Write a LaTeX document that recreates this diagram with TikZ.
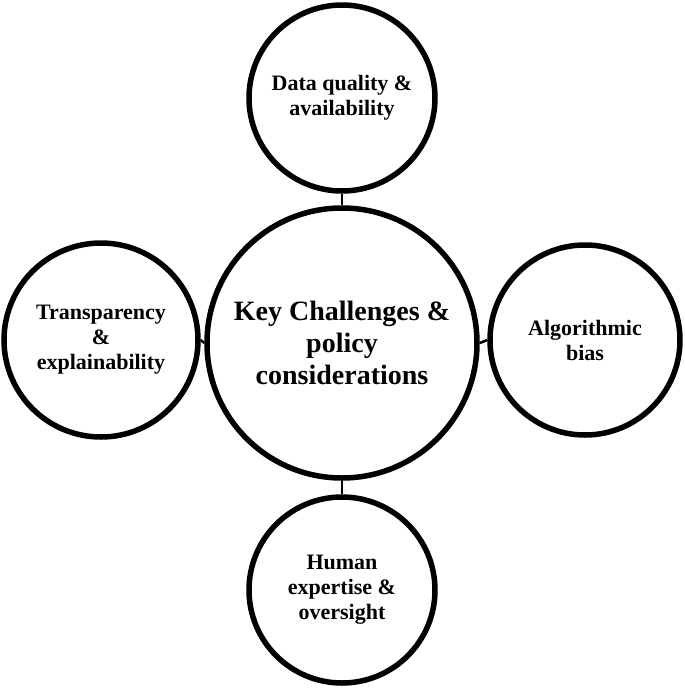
\documentclass[tikz,border=0pt]{standalone}
\usepackage{fontspec}
\setmainfont{Liberation Serif}
\begin{document}
\begin{tikzpicture}[x=1pt,y=-1pt,
  circ/.style={circle,draw=black,line width=5.5pt,fill=white,align=center,inner sep=0pt},
  small/.style={font=\bfseries\fontsize{22}{25}\selectfont},
  link/.style={line width=2.5pt}]
\useasboundingbox (0,0) rectangle (685,689);
\node[circ,minimum size=270pt,font=\bfseries\fontsize{28}{32}\selectfont] (c) at (342,343) {Key Challenges \&\\policy\\considerations};
\node[circ,small,minimum size=186pt] (t) at (342,98) {Data quality \&\\availability};
\node[circ,small,minimum size=186pt] (b) at (342,590) {Human\\expertise \&\\oversight};
\node[circ,small,minimum size=194pt] (l) at (101,340) {Transparency\\\&\\explainability};
\node[circ,small,minimum size=190pt] (r) at (585,340) {Algorithmic\\bias};
\draw[link] (c) -- (t);
\draw[link] (c) -- (b);
\draw[link] (c.west) -- (l.east);
\draw[link] (c.east) -- (r.west);
\end{tikzpicture}
\end{document}
